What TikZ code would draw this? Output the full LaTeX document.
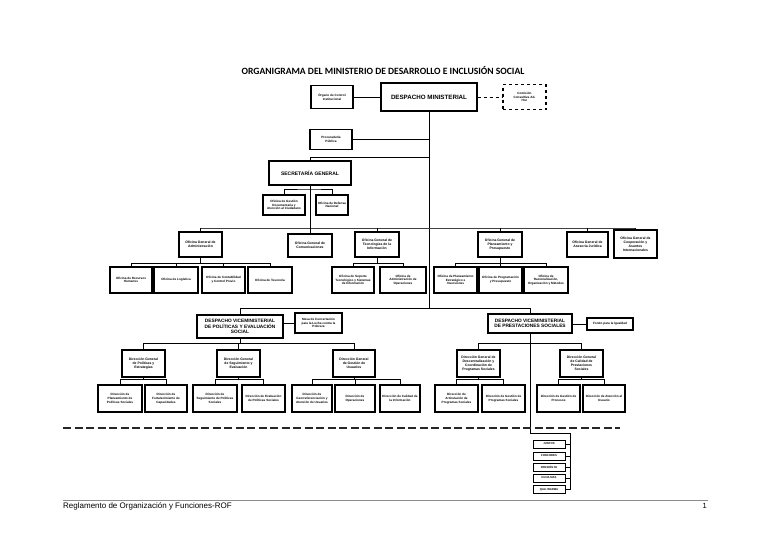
\documentclass[tikz,border=0pt]{standalone}
\usepackage{fontspec}
\setmainfont{Liberation Sans}
\newfontfamily\titlefont{Carlito}
\begin{document}
\begin{tikzpicture}[x=1pt,y=-1pt,
  bx/.style={draw, line width=1.05pt, align=center, inner sep=0.3pt, fill=white,
    font=\bfseries\fontsize{3.1}{3.7}\selectfont},
  sz/.style 2 args={minimum width=#1pt, minimum height=#2pt},
  og/.style={font=\bfseries\fontsize{3.4}{4.1}\selectfont},
  hd/.style={font=\bfseries\fontsize{4.8}{5.6}\selectfont},
  ln/.style={line width=0.9pt},
  pr/.style={bx, line width=0.8pt, font=\bfseries\fontsize{2.8}{3.2}\selectfont}]
\useasboundingbox (0,0) rectangle (768,543);
\fill[white] (0,0) rectangle (768,543);

\node[font=\titlefont\bfseries\fontsize{9.6}{11}\selectfont] (title) at (383,71)
  {ORGANIGRAMA DEL MINISTERIO DE DESARROLLO E INCLUSIÓN SOCIAL};

% top level
\node[bx, sz={96}{28}, font=\bfseries\fontsize{6.2}{7.4}\selectfont] (dm) at (429,97) {DESPACHO MINISTERIAL};
\node[bx, sz={42}{23}] (oci) at (332,97) {Órgano de Control\\Institucional};
\node[bx, sz={43}{25}, dashed] (cca) at (524.5,97) {Comisión\\Consultiva Ad-\\Hoc};
\node[bx, sz={42}{20}] (proc) at (331,139.5) {Procuraduría\\Pública};
\node[bx, sz={82}{24}, font=\bfseries\fontsize{5}{6}\selectfont] (sg) at (310,173) {SECRETARÍA GENERAL};
\node[bx, sz={42}{20}] (s1) at (284,205) {Oficina de Gestión\\Documentaria y\\Atención al Ciudadano};
\node[bx, sz={32}{20}] (s2) at (332,205) {Oficina de Defensa\\Nacional};

% oficinas generales
\node[bx, og, sz={43}{25}] (adm) at (200.5,244.5) {Oficina General de\\Administración};
\node[bx, og, sz={44}{23}] (comu) at (310,245.5) {Oficina General de\\Comunicaciones};
\node[bx, og, sz={44}{25}] (tec) at (377,244.5) {Oficina General de\\Tecnologías de la\\Información};
\node[bx, og, sz={44}{25}] (plan) at (500,244.5) {Oficina General de\\Planeamiento y\\Presupuesto};
\node[bx, og, sz={41}{25}] (ases) at (587.5,244.5) {Oficina General de\\Asesoría Jurídica};
\node[bx, og, sz={43}{28}] (coop) at (635.5,244) {Oficina General de\\Cooperación y\\Asuntos\\Internacionales};

\node[bx, sz={42}{26}] (a1) at (131,280) {Oficina de Recursos\\Humanos};
\node[bx, sz={44}{26}] (a2) at (176,280) {Oficina de Logística};
\node[bx, sz={43}{26}] (a3) at (223.5,280) {Oficina de Contabilidad\\y Control Previo};
\node[bx, sz={44}{26}] (a4) at (270,280) {Oficina de Tesorería};
\node[bx, sz={42}{26}] (t1) at (353,280) {Oficina de Soporte\\Tecnológico y Sistemas\\de Información};
\node[bx, sz={46}{26}] (t2) at (403,280) {Oficina de\\Administración de\\Operaciones};
\node[bx, sz={43}{26}] (p1) at (455.5,280) {Oficina de Planeamiento\\Estratégico e\\Inversiones};
\node[bx, sz={43}{26}] (p2) at (500.5,280) {Oficina de Programación\\y Presupuesto};
\node[bx, sz={44}{26}] (p3) at (546,280) {Oficina de\\Racionalización,\\Organización y Métodos};

% viceministerios
\node[bx, hd, sz={86}{23}] (dvpes) at (240,326.5) {DESPACHO VICEMINISTERIAL\\DE POLÍTICAS Y EVALUACIÓN\\SOCIAL};
\node[bx, sz={47}{20}] (mesa) at (318.5,323) {Mesa de Concertación\\para la Lucha contra la\\Pobreza};
\node[bx, hd, sz={84}{19}] (dvps) at (530,323.5) {DESPACHO VICEMINISTERIAL\\DE PRESTACIONES SOCIALES};
\node[bx, sz={46}{12}] (fondo) at (610,324) {Fondo para la Igualdad};

% direcciones generales
\node[bx, og, sz={43}{27}] (dgpe) at (143.5,363.5) {Dirección General\\de Políticas y\\Estrategias};
\node[bx, og, sz={43}{27}] (dgse) at (238.5,363.5) {Dirección General\\de Seguimiento y\\Evaluación};
\node[bx, og, sz={42}{27}] (dggu) at (354,363.5) {Dirección General\\de Gestión de\\Usuarios};
\node[bx, og, sz={43}{27}] (dgdc) at (478.5,363.5) {Dirección General de\\Descentralización y\\Coordinación de\\Programas Sociales};
\node[bx, og, sz={43}{27}] (dgcp) at (581.5,363.5) {Dirección General\\de Calidad de\\Prestaciones\\Sociales};

\node[bx, sz={44}{27}] (e1) at (120,398.5) {Dirección de\\Planeamiento de\\Políticas Sociales};
\node[bx, sz={42}{27}] (e2) at (166,398.5) {Dirección de\\Fortalecimiento de\\Capacidades};
\node[bx, sz={44}{27}] (f1) at (215,398.5) {Dirección de\\Seguimiento de Políticas\\Sociales};
\node[bx, sz={43}{27}] (f2) at (263.5,398.5) {Dirección de Evaluación\\de Políticas Sociales};
\node[bx, sz={40}{27}] (g1) at (312,398.5) {Dirección de\\Georreferenciación y\\Atención de Usuarios};
\node[bx, sz={40}{27}] (g2) at (355,398.5) {Dirección de\\Operaciones};
\node[bx, sz={40}{27}] (g3) at (400,398.5) {Dirección de Calidad de\\la Información};
\node[bx, sz={43}{27}] (h1) at (456.5,398.5) {Dirección de\\Articulación de\\Programas Sociales};
\node[bx, sz={43}{27}] (h2) at (503.5,398.5) {Dirección de Gestión de\\Programas Sociales};
\node[bx, sz={43}{27}] (i1) at (558.5,398.5) {Dirección de Gestión de\\Procesos};
\node[bx, sz={42}{27}] (i2) at (604,398.5) {Dirección de Atención al\\Usuario};

% programas
\node[pr, sz={32}{8}] (q1) at (549,444) {JUNTOS};
\node[pr, sz={32}{8}] (q2) at (549,456) {FONCODES};
\node[pr, sz={32}{8}] (q3) at (549,467) {PENSIÓN 65};
\node[pr, sz={32}{8}] (q4) at (549,478) {CUNA MAS};
\node[pr, sz={32}{8}] (q5) at (549,489.5) {QALI WARMA};

% coordinates
\coordinate (sj) at (429,157);
\coordinate (sb) at (0,189);
\coordinate (gb) at (0,228);
\coordinate (ob) at (0,263);
\coordinate (vb) at (0,308);
\coordinate (db) at (0,343);
\coordinate (eb) at (0,379);
\coordinate (pv) at (570,433);
\coordinate (dl) at (63,428);
\coordinate (dr) at (620,428);
\coordinate (fl) at (63,500);
\coordinate (fr) at (708,500);

% connectors
\begin{scope}[ln]
\draw (oci.east) -- (dm.west);
\draw[dashed] (dm.east) -- (cca.west);
\draw (dm.south) -- (dm.south |- vb);
\draw (proc.east) -- (proc.east -| dm.south);
\draw (sj) -| (sg.north);
\draw (sg.south) -- (sg.south |- gb);
\draw (s1.north) |- (sg.south |- sb) -| (s2.north);
\draw[black!75] (adm.north |- gb) -- (coop.north |- gb);
\foreach \n in {adm,comu,tec,plan,ases,coop} \draw (\n.north) -- (\n.north |- gb);
\draw (adm.south) -- (adm.south |- ob);
\draw (a1.north) |- (a4.north |- ob) -- (a4.north);
\foreach \n in {a2,a3} \draw (\n.north) -- (\n.north |- ob);
\draw (tec.south) -- (tec.south |- ob);
\draw (t1.north) |- (t2.north |- ob) -- (t2.north);
\draw (plan.south) -- (plan.south |- ob);
\draw (p1.north) |- (p3.north |- ob) -- (p3.north);
\draw (p2.north) -- (p2.north |- ob);
% vice
\draw (dvpes.north |- vb) -- (dvps.north |- vb);
\draw (dvpes.north) -- (dvpes.north |- vb);
\draw (dvps.north) -- (dvps.north |- vb);
\draw (mesa.west) -- (mesa.west -| dvpes.east);
\draw (fondo.west) -- (fondo.west -| dvps.east);
% DG
\draw (dvpes.south) -- (dvpes.south |- db);
\draw (dgpe.north) |- (dggu.north |- db) -- (dggu.north);
\draw (dgse.north) -- (dgse.north |- db);
\draw (dgdc.north) |- (dgcp.north |- db) -- (dgcp.north);
\draw (dvps.south) |- (pv) -- (pv |- q5.east);
\foreach \n in {q1,q2,q3,q4,q5} \draw (\n.east) -- (\n.east -| pv);
% Direcciones
\draw (dgpe.south) -- (dgpe.south |- eb);
\draw (e1.north) |- (e2.north |- eb) -- (e2.north);
\draw (dgse.south) -- (dgse.south |- eb);
\draw (f1.north) |- (f2.north |- eb) -- (f2.north);
\draw (dggu.south) -- (dggu.south |- eb);
\draw (g1.north) |- (g3.north |- eb) -- (g3.north);
\draw (g2.north) -- (g2.north |- eb);
\draw (dgdc.south) -- (dgdc.south |- eb);
\draw (h1.north) |- (h2.north |- eb) -- (h2.north);
\draw (dgcp.south) -- (dgcp.south |- eb);
\draw (i1.north) |- (i2.north |- eb) -- (i2.north);
\end{scope}

\draw[line width=1.1pt, black!85, dash pattern=on 8pt off 3.5pt] (dl) -- (dr);
\draw[line width=0.6pt, black!45] (fl) -- (fr);
\node[anchor=west, inner sep=0, font=\fontsize{8}{9.5}\selectfont] (rof) at (63,506) {Reglamento de Organización y Funciones-ROF};
\node[anchor=east, inner sep=0, font=\fontsize{7.5}{9}\selectfont] (pg) at (707,506) {1};
\end{tikzpicture}
\end{document}
